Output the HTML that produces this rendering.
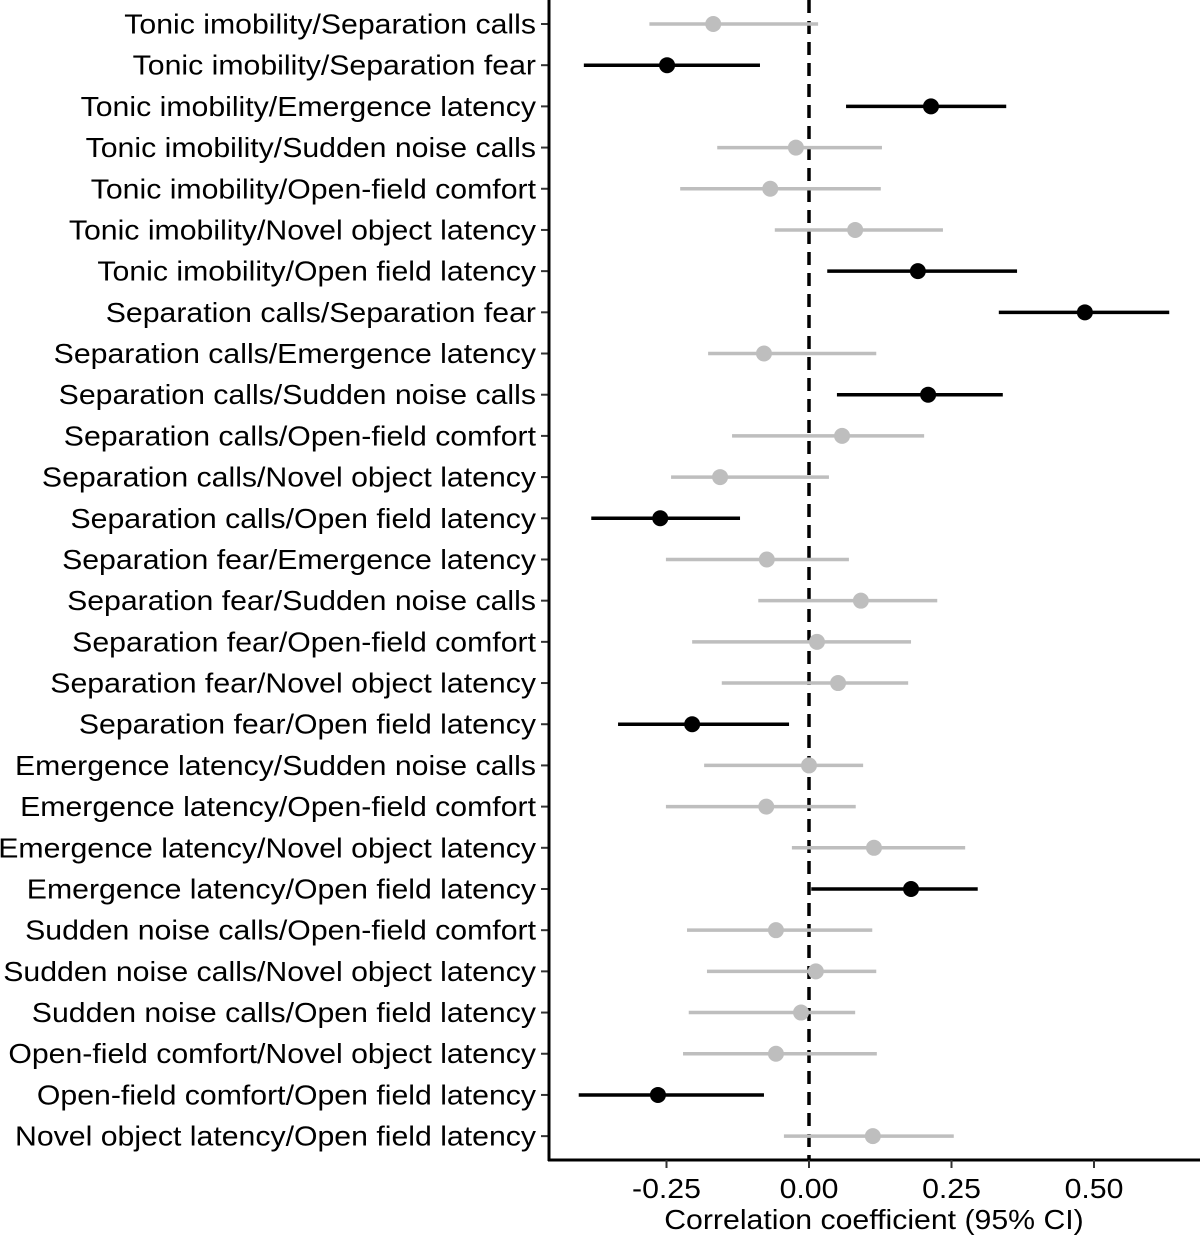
<!DOCTYPE html>
<html><head><meta charset="utf-8"><style>
body{margin:0;background:#fff;width:1200px;height:1235px;overflow:hidden}
svg{display:block;font-family:"Liberation Sans",sans-serif}
</style></head><body>
<svg id="chart" width="1200" height="1235"></svg>
<script>
const labels=["Tonic imobility/Separation calls","Tonic imobility/Separation fear","Tonic imobility/Emergence latency","Tonic imobility/Sudden noise calls","Tonic imobility/Open-field comfort","Tonic imobility/Novel object latency","Tonic imobility/Open field latency","Separation calls/Separation fear","Separation calls/Emergence latency","Separation calls/Sudden noise calls","Separation calls/Open-field comfort","Separation calls/Novel object latency","Separation calls/Open field latency","Separation fear/Emergence latency","Separation fear/Sudden noise calls","Separation fear/Open-field comfort","Separation fear/Novel object latency","Separation fear/Open field latency","Emergence latency/Sudden noise calls","Emergence latency/Open-field comfort","Emergence latency/Novel object latency","Emergence latency/Open field latency","Sudden noise calls/Open-field comfort","Sudden noise calls/Novel object latency","Sudden noise calls/Open field latency","Open-field comfort/Novel object latency","Open-field comfort/Open field latency","Novel object latency/Open field latency"];
const estimates=[-0.168,-0.249,0.214,-0.023,-0.068,0.081,0.191,0.484,-0.079,0.209,0.058,-0.156,-0.261,-0.074,0.091,0.014,0.051,-0.205,0,-0.075,0.114,0.179,-0.058,0.012,-0.014,-0.058,-0.265,0.112];
const lower=[-0.28,-0.395,0.065,-0.161,-0.226,-0.06,0.032,0.333,-0.177,0.049,-0.135,-0.242,-0.382,-0.251,-0.089,-0.205,-0.153,-0.335,-0.184,-0.251,-0.03,0.004,-0.214,-0.179,-0.211,-0.221,-0.404,-0.044];
const upper=[0.016,-0.086,0.346,0.128,0.126,0.235,0.365,0.632,0.118,0.34,0.202,0.035,-0.121,0.07,0.225,0.179,0.174,-0.035,0.095,0.082,0.274,0.296,0.111,0.118,0.081,0.119,-0.079,0.254];
const significant=[0,1,1,0,0,0,1,1,0,1,0,0,1,0,0,0,0,1,0,0,0,1,0,0,0,0,1,0];
const ticks=[-0.25,0,0.25,0.5];
const tickLabels=["-0.25","0.00","0.25","0.50"];
const NS="http://www.w3.org/2000/svg";
const svg=document.getElementById('chart');
const x=v=>809+v*570;
const y=i=>24+i*41.19;
const SX=1.1;
function mk(t,a){const e=document.createElementNS(NS,t);for(const k in a)e.setAttribute(k,a[k]);svg.appendChild(e);return e;}
let e=mk('line',{x1:x(0),x2:x(0),y1:0,y2:1160,stroke:'#000','stroke-width':3.5,'stroke-dasharray':'13,8'});


labels.forEach((l,i)=>{
 const c=significant[i]?'#000':'#bebebe';
 let ln=mk('line',{x1:x(lower[i]),x2:x(upper[i]),y1:y(i),y2:y(i),stroke:c,'stroke-width':3.5});
 
 
 let pt=mk('circle',{cx:x(estimates[i]),cy:y(i),r:8,fill:c});
 
 
 let tk=mk('line',{x1:541,x2:549,y1:y(i),y2:y(i),stroke:'#333','stroke-width':2});
 
 
 let tx=mk('text',{x:536/SX,y:y(i)+9.5,'text-anchor':'end','font-size':27.5,fill:'#000',transform:`scale(${SX},1)`});
 tx.textContent=l;
 
 
});
e=mk('line',{x1:549,x2:549,y1:0,y2:1161,stroke:'#000','stroke-width':3});


e=mk('line',{x1:548,x2:1200,y1:1160,y2:1160,stroke:'#000','stroke-width':3});


ticks.forEach((t,i)=>{
 let tk=mk('line',{x1:x(t),x2:x(t),y1:1160,y2:1168,stroke:'#333','stroke-width':2});
 
 
 let tx=mk('text',{x:x(t)/SX,y:1198,'text-anchor':'middle','font-size':27.5,fill:'#000',transform:`scale(${SX},1)`});
 tx.textContent=tickLabels[i];
 
 
});
e=mk('text',{x:874/SX,y:1229,'text-anchor':'middle','font-size':27.5,fill:'#000',transform:`scale(${SX},1)`});
e.textContent='Correlation coefficient (95% CI)';


</script>
</body></html>
